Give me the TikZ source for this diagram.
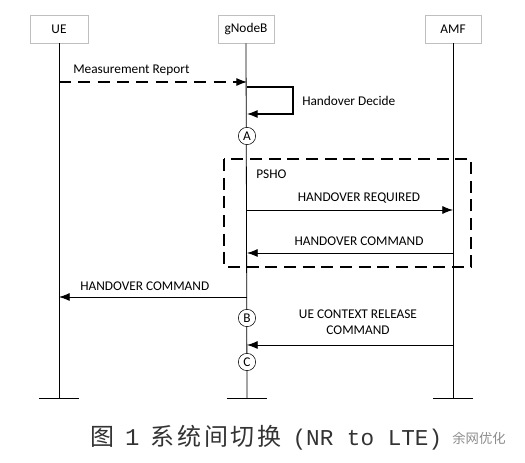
\documentclass[tikz,border=0pt]{standalone}
\usepackage{fontspec}
\setmainfont{Carlito}
\newfontfamily\cjk{Noto Sans CJK SC}
\newfontfamily\capmono{Liberation Mono}
\usepackage{tikz}
\usetikzlibrary{calc}
\usetikzlibrary{positioning}
\usetikzlibrary{arrows.meta}

\begin{document}
\begin{tikzpicture}[x=0.75pt, y=-0.75pt]

\newcommand\lifeend{398}

\useasboundingbox (0,0) rectangle (525,463);

% entities
\node at (59,29) [rectangle, draw=black!25, fill=white, minimum height = 21pt, minimum width = 43.5pt] (ue) {UE};
\node at (246,29) [rectangle, draw=black!25, fill=white, minimum height = 21pt, minimum width = 42pt] (gnb) {gNodeB};
\node at (453,29) [rectangle, draw=black!25, fill=white, minimum height = 21pt, minimum width = 42pt] (amf) {AMF};

% life lines
\coordinate (ueend) at (59,\lifeend);
\coordinate (gnbend) at (247,\lifeend);
\coordinate (amfend) at (453,\lifeend);
\draw[black, semithick] (ue.south) -- (ueend);
\draw[black, semithick] (gnb.south) -- (gnbend);
\draw[black, semithick] (amf.south) -- (amfend);
\draw[black, semithick] ($(ueend)+(-20,0)$) -- ($(ueend)+(20,0)$);
\draw[black, semithick] ($(gnbend)+(-20,0)$) -- ($(gnbend)+(20,0)$);
\draw[black, semithick] ($(amfend)+(-20,0)$) -- ($(amfend)+(20,0)$);

% message end points
\coordinate (uemr) at (59,82);
\coordinate (gnbmr) at (247,82);
\coordinate (gnbhdout) at (247,87);
\coordinate (gnbhdin) at (247,114);
\coordinate (gnbreq) at (247,210);
\coordinate (amfreq) at (453,210);
\coordinate (amfcmd) at (453,253);
\coordinate (gnbcmd) at (247,253);
\coordinate (gnbuecmd) at (247,297);
\coordinate (uecmd) at (59,297);
\coordinate (amfrel) at (453,345);
\coordinate (gnbrel) at (247,345);

% PSHO box
\draw[black, thick, dash pattern=on 9pt off 5pt] (224,159) rectangle (471,267);
\node at (256,174) [anchor=west, inner sep=0pt] (psho) {PSHO};

% markers
\node at (247,136) [circle, draw=black, fill=white, inner sep=0pt, minimum size = 13pt] (mka) {A};
\node at (247,318) [circle, draw=black, fill=white, inner sep=0pt, minimum size = 13pt] (mkb) {B};
\node at (247,362) [circle, draw=black, fill=white, inner sep=0pt, minimum size = 13pt] (mkc) {C};

% messages
\begin{scope}[>={Latex[length=8pt, width=6pt]}]
	\draw[black, thick, dash pattern=on 9pt off 5.5pt, ->] (uemr) -- (gnbmr);
	\draw[black, thick, ->] (gnbhdout) -- (293,87) -- (293,114) -- (gnbhdin);
	\draw[black, semithick, ->] (gnbreq) -- (amfreq);
	\draw[black, semithick, ->] (amfcmd) -- (gnbcmd);
	\draw[black, semithick, ->] (gnbuecmd) -- (uecmd);
	\draw[black, semithick, ->] (amfrel) -- (gnbrel);
\end{scope}

\node at (73,70) [anchor=west, inner sep=0pt] (mrlabel) {Measurement Report};
\node at (302,101) [anchor=west, inner sep=0pt] (hdlabel) {Handover Decide};
\node at (359,198) (reqlabel) {HANDOVER REQUIRED};
\node at (359,241) (cmdlabel) {HANDOVER COMMAND};
\node at (80,286) [anchor=west, inner sep=0pt] (uecmdlabel) {HANDOVER COMMAND};
\node at (358,322) [align=center, inner sep=0pt] (rellabel) {UE CONTEXT RELEASE\\COMMAND};

% caption
\node at (90,438) [anchor=west, inner sep=0pt, black!80] (caption) {\fontsize{18pt}{20pt}\selectfont\cjk 图\hspace{0.45em}{\capmono 1}\hspace{0.45em}系\hspace{0.12em}统\hspace{0.12em}间\hspace{0.12em}切\hspace{0.12em}换\hspace{0.45em}{\capmono\fontsize{17pt}{20pt}\selectfont(NR to LTE)}};
\node at (506,438) [anchor=east, inner sep=0pt, black!45] (mark) {\fontsize{10pt}{12pt}\selectfont\cjk 余网优化};

\end{tikzpicture}
\end{document}
